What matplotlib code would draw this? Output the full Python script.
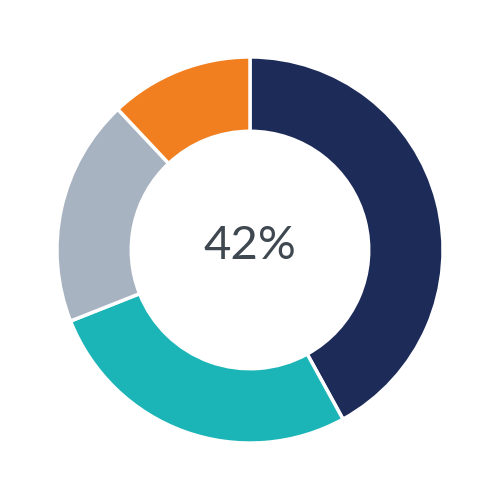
import matplotlib.pyplot as plt

labels = ["A", "B", "C", "D"]
values = [42, 27, 19, 12]
colors = ["#1c2b58", "#1cb5b7", "#a8b3c2", "#f17f1f"]
center_label = "42%"

fig = plt.figure(figsize=(5, 5), dpi=100)
ax = fig.add_axes([0, 0, 1, 1])

ax.pie(
    values,
    colors=colors,
    startangle=90,
    counterclock=False,
    radius=1.0,
    wedgeprops=dict(width=0.385, edgecolor="white", linewidth=2.5),
)
ax.text(0, 0.02, center_label, ha="center", va="center", fontsize=34,
        color="#3f4850", family="Lato", fontweight="normal")

ax.set_xlim(-1.295, 1.295)
ax.set_ylim(-1.295, 1.295)
ax.set_aspect("equal")
ax.axis("off")

fig.savefig("out.png", dpi=100, facecolor="white")
